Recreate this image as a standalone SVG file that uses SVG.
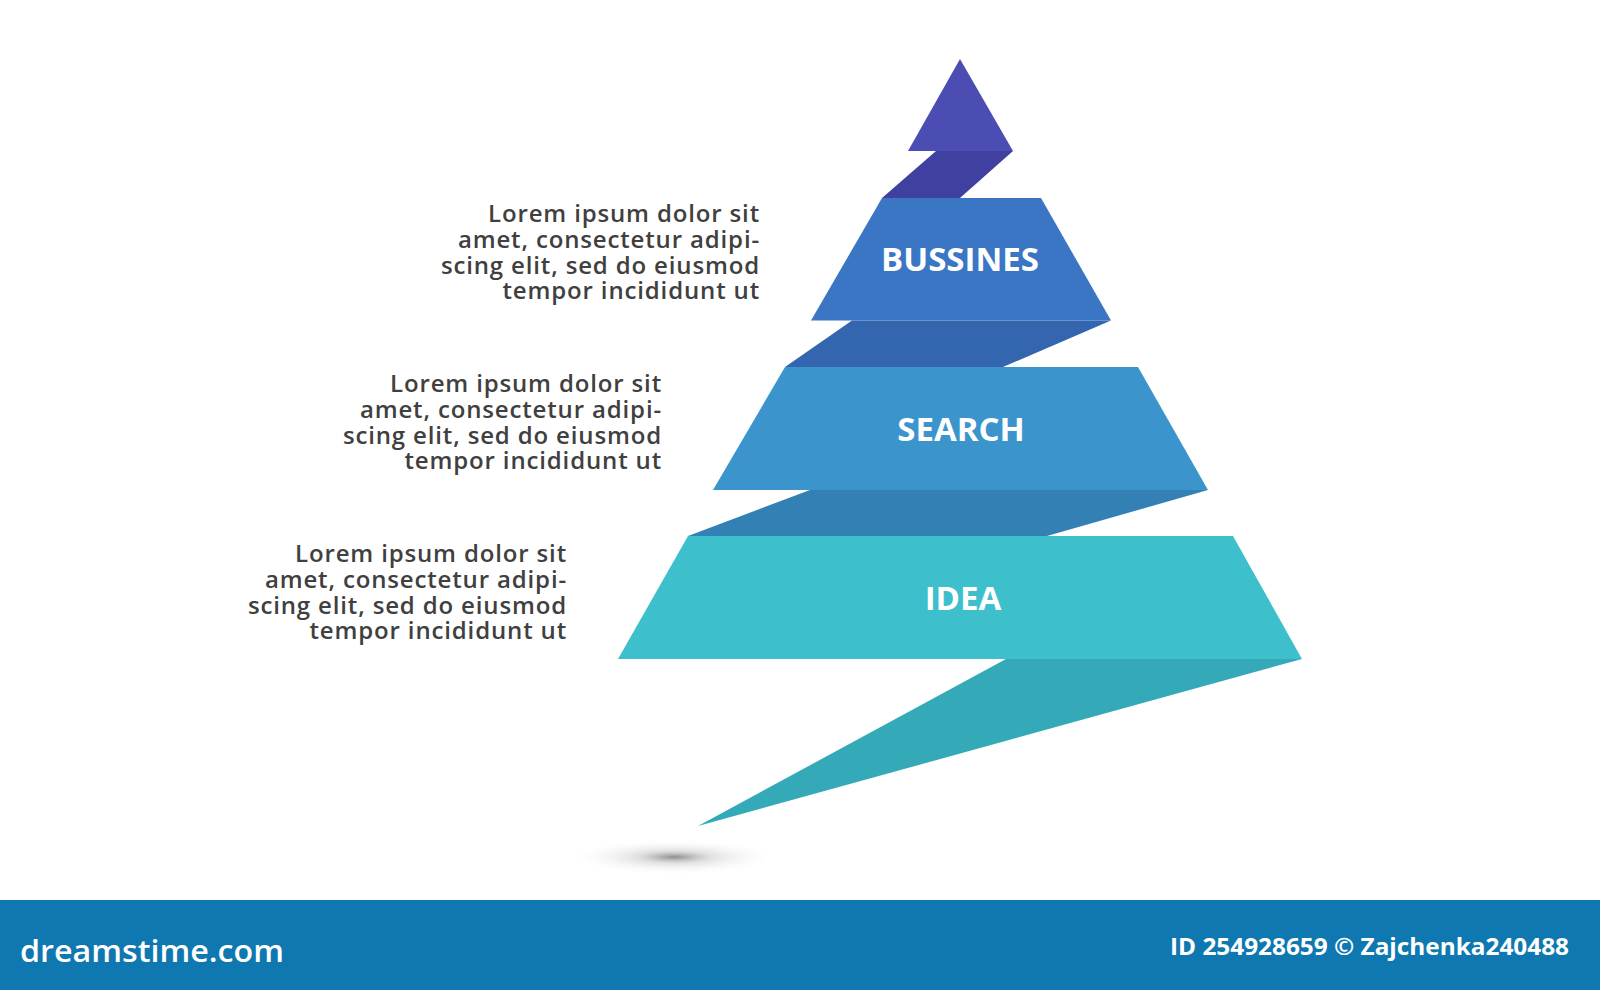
<svg xmlns="http://www.w3.org/2000/svg" width="1600" height="990" viewBox="0 0 1600 990">
  <defs>
    <radialGradient id="shadowGrad" cx="50%" cy="50%" r="50%">
      <stop offset="0%" stop-color="#7a7a7a" stop-opacity="0.85"/>
      <stop offset="35%" stop-color="#bdbdbd" stop-opacity="0.45"/>
      <stop offset="100%" stop-color="#ffffff" stop-opacity="0"/>
    </radialGradient>
  </defs>
  <style>
    .body { font-family: "Open Sans", "Liberation Sans", sans-serif; font-weight: 600; font-size: 24px; letter-spacing: 0.85px; fill: #404040; text-anchor: end; }
    .label { font-family: "Open Sans", "Liberation Sans", sans-serif; font-weight: 700; font-size: 33px; fill: #ffffff; text-anchor: middle; }
    .foot { font-family: "Open Sans", "Liberation Sans", sans-serif; fill: #ffffff; }
  </style>
  <rect x="0" y="0" width="1600" height="990" fill="#ffffff"/>

  <ellipse cx="674" cy="857" rx="105" ry="18" fill="url(#shadowGrad)"/>

  <g id="connectors">
    <polygon id="fold-top" points="936,151 1013,151 960,198 882,198" fill="#3f40a0"/>
    <polygon id="fold-bussines" points="852,320.5 1111,320.5 1003,367 785,367" fill="#3466b0"/>
    <polygon id="fold-search" points="810,490 1208,490 1047,536 688,536" fill="#3380b4"/>
    <polygon id="tail" points="1006,659 1302,659 698,826" fill="#34a9b7"/>
  </g>

  <g id="node-top">
    <polygon points="960,59 1013,151 908,151" fill="#4b4db3"/>
  </g>

  <g id="node-bussines">
    <polygon points="882,198 1041,198 1111,320.5 811,320.5" fill="#3a76c3"/>
    <text class="label" x="960" y="271">BUSSINES</text>
  </g>

  <g id="node-search">
    <polygon points="785,367 1138,367 1208,490 713,490" fill="#3c94cc"/>
    <text class="label" x="961" y="441">SEARCH</text>
  </g>

  <g id="node-idea">
    <polygon points="688,536 1233,536 1302,659 618,659" fill="#3dc0cc"/>
    <text class="label" x="963" y="610">IDEA</text>
  </g>

  <g id="text-bussines">
    <text class="body" x="760" y="222">Lorem ipsum dolor sit</text>
    <text class="body" x="760" y="247.8">amet, consectetur adipi-</text>
    <text class="body" x="760" y="273.6">scing elit, sed do eiusmod</text>
    <text class="body" x="760" y="299.4">tempor incididunt ut</text>
  </g>

  <g id="text-search">
    <text class="body" x="662" y="392">Lorem ipsum dolor sit</text>
    <text class="body" x="662" y="417.8">amet, consectetur adipi-</text>
    <text class="body" x="662" y="443.6">scing elit, sed do eiusmod</text>
    <text class="body" x="662" y="469.4">tempor incididunt ut</text>
  </g>

  <g id="text-idea">
    <text class="body" x="567" y="562">Lorem ipsum dolor sit</text>
    <text class="body" x="567" y="587.8">amet, consectetur adipi-</text>
    <text class="body" x="567" y="613.6">scing elit, sed do eiusmod</text>
    <text class="body" x="567" y="639.4">tempor incididunt ut</text>
  </g>

  <g id="footer">
    <rect x="0" y="900" width="1600" height="90" fill="#1078b0"/>
    <text class="foot" x="20" y="962" font-size="31" font-weight="600" textLength="264" lengthAdjust="spacingAndGlyphs">dreamstime.com</text>
    <text class="foot" x="1569" y="955" font-size="24" font-weight="700" text-anchor="end" textLength="399" lengthAdjust="spacingAndGlyphs">ID 254928659 © Zajchenka240488</text>
  </g>
</svg>
